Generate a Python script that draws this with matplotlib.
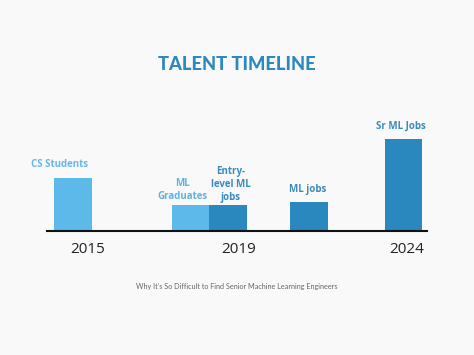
import matplotlib
matplotlib.use("Agg")
import matplotlib.pyplot as plt

# ---- data ----
categories = ["CS Students", "ML\nGraduates", "Entry-\nlevel ML\njobs", "ML jobs", "Sr ML Jobs"]
values = [53, 26, 26, 29, 91.5]
bar_pos = [0.70, 3.83, 4.83, 7.0, 9.52]
year_labels = ["2015", "2019", "2024"]
year_pos = [1.09, 5.13, 9.59]

title = "TALENT TIMELINE"
subtitle = "Why It's So Difficult to Find Senior Machine Learning Engineers"

light = "#5db9ea"
dark = "#2b88bf"
bar_colors = [light, light, dark, dark, dark]
label_colors = ["#66b9e6", "#5fb3e2", "#3a8cbf", "#3a8cbf", "#3a8cbf"]
label_offsets = [(-13, 13), (-7.5, 15), (3, 20), (-1.7, 12.7), (-3, 13.3)]

bg = "#f9f9f9"
fig = plt.figure(figsize=(4.74, 3.55), dpi=100, facecolor=bg)
ax = fig.add_axes([0.0985, 0.350, 0.803, 0.2817])
ax.set_facecolor(bg)

ax.bar(bar_pos, values, width=1.0, color=bar_colors, align="center", zorder=2)
ax.set_xlim(0, 10.15)
ax.set_ylim(0, 100)

for x, v, lab, c, (dx, dy) in zip(bar_pos, values, categories, label_colors, label_offsets):
    ax.annotate(lab, xy=(x, v), xytext=(dx, dy), textcoords="offset pixels",
                ha="center", va="center", fontsize=7, fontweight="bold",
                family="Open Sans", color=c, linespacing=1.25)

for s in ["top", "right", "left"]:
    ax.spines[s].set_visible(False)
ax.spines["bottom"].set_linewidth(1.5)
ax.spines["bottom"].set_color("#111111")
ax.set_yticks([])
ax.set_xticks(year_pos)
ax.set_xticklabels(year_labels, fontsize=11, family="Open Sans", color="#222222")
ax.tick_params(axis="x", length=0, pad=8)

fig.text(0.5, 1 - 65 / 355, title, ha="center", va="center", fontsize=13.2,
         fontweight="black", family="Lato", color="#2e88c0")
fig.text(0.5, 1 - 286 / 355, subtitle, ha="center", va="center", fontsize=5.2,
         family="Lato", color="#666666")

fig.savefig("out.png", dpi=100, facecolor=bg)
